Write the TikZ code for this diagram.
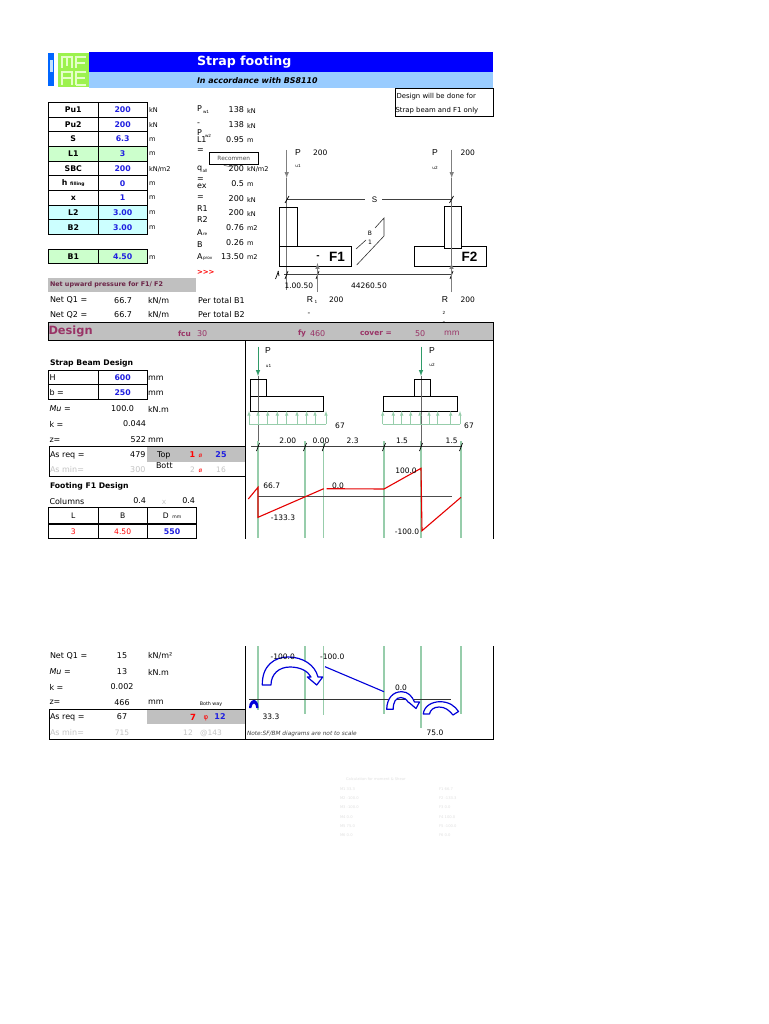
\documentclass[tikz,border=0pt]{standalone}
\usepackage{fontspec}
\setmainfont{DejaVu Sans}
\newfontfamily\arialf{Liberation Sans}
\usepackage{tikz}
\definecolor{headblue}{HTML}{0000FF}
\definecolor{skyblue}{HTML}{99CCFF}
\definecolor{cellgreen}{HTML}{CCFFCC}
\definecolor{cellcyan}{HTML}{CCFFFF}
\definecolor{stripgrey}{HTML}{C0C0C0}
\definecolor{plum}{HTML}{993366}
\definecolor{inblue}{HTML}{1F1FE0}
\definecolor{palegreen}{HTML}{97CDAB}
\definecolor{loadgreen}{HTML}{2F9A68}
\definecolor{lightnum}{HTML}{C4C4C4}
\definecolor{ghost}{HTML}{E0E0E0}
\definecolor{logolime}{HTML}{9CF24E}
\definecolor{logostroke}{HTML}{E4FFC8}
\tikzset{
	lab/.style={anchor=west, font=\fontsize{8}{9}\selectfont},
	num/.style={anchor=east, font=\fontsize{8}{9}\selectfont},
	mid/.style={font=\fontsize{7.5}{9}\selectfont},
	hed/.style={anchor=west, font=\fontsize{7.7}{9}\selectfont\bfseries},
	sub/.style={font=\fontsize{4.2}{5}\selectfont},
	unit/.style={anchor=west, font=\fontsize{6.6}{8}\selectfont},
	ari/.style={font=\arialf\fontsize{8.6}{10}\selectfont},
	cell/.style={draw=black, line width=0.9pt, minimum width=49.4pt, minimum height=14.7pt, font=\fontsize{7.8}{9}\selectfont\bfseries},
	val/.style={cell, text=inblue},
	ghosttxt/.style={anchor=west, text=ghost, font=\fontsize{3.7}{4}\selectfont},
	dimline/.style={draw=black!75, line width=0.6pt},
	gline/.style={draw=palegreen, line width=1.2pt},
	upar/.style={color=palegreen, line width=0.6pt, -latex},
	greyar/.style={color=black!50, line width=1pt, -latex},
	curve/.style={draw=blue!85!black, fill=white, line width=1.2pt, line join=round}
}
\begin{document}
\begin{tikzpicture}[x=1pt, y=-1pt, every node/.style={inner sep=0pt, outer sep=0pt}]
	\useasboundingbox (0,0) rectangle (768,1024);
	\fill[white] (0,0) rectangle (768,1024);

	% header
	\fill[headblue] (89,52) rectangle (493,72);
	\fill[skyblue] (48,72) rectangle (493,88);
	\fill[white] (48,52) rectangle (89,88);
	\fill[blue!60!cyan] (48,53) rectangle (54,86);
	\fill[skyblue!60!white] (49.5,60) rectangle (52.5,72);
	\fill[logolime] (58,53) rectangle (89,87);
	\draw[logostroke, line width=1.5pt] (62,68) -- (62,57) -- (72,57) -- (72,68) (67,57) -- (67,66) (76,68) -- (76,57) -- (86,57) (76,63) -- (85,63);
	\draw[logostroke, line width=1.5pt] (62,85) -- (62,72) -- (72,72) -- (72,85) (62,78) -- (72,78) (76,85) -- (76,72) -- (86,72) (76,78) -- (85,78) (76,85) -- (86,85);
	\node[anchor=west, text=white, font=\fontsize{12.6}{15}\selectfont\bfseries] (title) at (197,62.5){Strap footing};
	\node[anchor=west, font=\fontsize{7.9}{9}\selectfont\bfseries\itshape] (subtitle) at (197,80.5){In accordance with BS8110};

	% note box
	\draw[black, line width=0.7pt] (395,88.5) rectangle (493,116.5);
	\node[anchor=west, font=\fontsize{6.9}{8}\selectfont] (notea) at (396.5,96.5){Design will be done for};
	\node[anchor=west, font=\fontsize{6.9}{8}\selectfont] (noteb) at (395.5,111){Strap beam and F1 only};

	% input table
	\node[cell] (pu1) at (73.3,109.7){Pu1};
	\node[val] (pu1v) at (122.7,109.7){200};
	\node[cell] (pu2) at (73.3,124.4){Pu2};
	\node[val] (pu2v) at (122.7,124.4){200};
	\node[cell] (s) at (73.3,139.1){S};
	\node[val] (sv) at (122.7,139.1){6.3};
	\node[cell, fill=cellgreen] (l1) at (73.3,153.8){L1};
	\node[val, fill=cellgreen] (l1v) at (122.7,153.8){3};
	\node[cell] (sbc) at (73.3,168.5){SBC};
	\node[val] (sbcv) at (122.7,168.5){200};
	\node[cell] (hf) at (73.3,183.2){h {\fontsize{4.5}{5}\selectfont filling}};
	\node[val] (hfv) at (122.7,183.2){0};
	\node[cell] (x) at (73.3,197.9){x};
	\node[val] (xv) at (122.7,197.9){1};
	\node[cell, fill=cellcyan] (l2) at (73.3,212.6){L2};
	\node[val, fill=cellcyan] (l2v) at (122.7,212.6){3.00};
	\node[cell, fill=cellcyan] (b2) at (73.3,227.3){B2};
	\node[val, fill=cellcyan] (b2v) at (122.7,227.3){3.00};
	\node[cell, fill=cellgreen] (b1) at (73.3,256.5){B1};
	\node[val, fill=cellgreen] (b1v) at (122.7,256.5){4.50};
	\node[unit] (u1) at (149,110){kN};
	\node[unit] (u2) at (149,124.5){kN};
	\node[unit] (u3) at (149,139.5){m};
	\node[unit] (u4) at (149,154){m};
	\node[unit] (u5) at (149,169){kN/m2};
	\node[unit] (u6) at (149,183.5){m};
	\node[unit] (u7) at (149,198){m};
	\node[unit] (u8) at (149,213){m};
	\node[unit] (u9) at (149,227.5){m};
	\node[unit] (u10) at (149,258){m};

	% computed values
	\node[lab] (pwa) at (197,109){P};
	\node[sub, anchor=west] (pwb) at (203,111.5){w1};
	\node[lab] (dash) at (197,124){-};
	\node[lab] (pb) at (197,132.5){P};
	\node[lab] (lt) at (197,139.5){L1};
	\node[sub, anchor=west] (ltb) at (205,136){w2};
	\node[lab] (eqa) at (197,151){=};
	\node[lab] (qa) at (197,169){q};
	\node[sub, anchor=west] (qb) at (202.5,170.5){all};
	\node[lab] (eqb) at (197,180){=};
	\node[lab] (ex) at (197,186.5){ex};
	\node[lab] (eqc) at (197,198){=};
	\node[lab] (ra) at (197,208.5){R1};
	\node[lab] (rb) at (197,220){R2};
	\node[lab] (are) at (197,232.5){A};
	\node[sub, anchor=west] (areb) at (203,234.5){re};
	\node[lab] (bq) at (197,244.5){B};
	\node[lab] (apr) at (197,256.5){A};
	\node[sub, anchor=west] (aprb) at (203,258.5){prov};
	\node[lab, text=red, font=\fontsize{7}{8}\selectfont\bfseries] (more) at (197,272){>{}>{}>};
	\node[num] (v1) at (244,110){138};
	\node[unit] (v1u) at (247,110.5){kN};
	\node[num] (v2) at (244,125){138};
	\node[unit] (v2u) at (247,125.5){kN};
	\node[num] (v3) at (244,140){0.95};
	\node[unit] (v3u) at (247,140.5){m};
	\node[num] (v4) at (244,169){200};
	\node[unit] (v4u) at (247,169.5){kN/m2};
	\node[num] (v5) at (244,184){0.5};
	\node[unit] (v5u) at (247,185){m};
	\node[num] (v6) at (244,199){200};
	\node[unit] (v6u) at (247,199.5){kN};
	\node[num] (v7) at (244,213){200};
	\node[unit] (v7u) at (247,213.5){kN};
	\node[num] (v8) at (244,228){0.76};
	\node[unit] (v8u) at (247,228.5){m2};
	\node[num] (v9) at (244,243){0.26};
	\node[unit] (v9u) at (247,243.5){m};
	\node[num] (v10) at (244,257){13.50};
	\node[unit] (v10u) at (247,257.5){m2};
	\draw[black!70, line width=0.5pt] (222,164) .. controls (226,167) and (232,167) .. (236,165);
	\node[draw=black, line width=0.5pt, fill=white, minimum width=49.5pt, minimum height=12.3pt, text=black!70, font=\fontsize{5.8}{7}\selectfont] (recom) at (233.8,158){Recommen};

	% net pressure
	\fill[stripgrey] (48,278) rectangle (196,292);
	\node[hed, text=plum!70!black, font=\fontsize{6.4}{8}\selectfont\bfseries] (nup) at (50,285){Net upward pressure for F1/ F2};
	\node[lab] (qa1) at (50,300.5){Net Q1 =};
	\node[num] (qa2) at (132,300.5){66.7};
	\node[lab] (qa3) at (148,300.5){kN/m};
	\node[lab] (qa4) at (198,300.5){Per total B1};
	\node[lab] (qb1) at (50,315){Net Q2 =};
	\node[num] (qb2) at (132,315){66.7};
	\node[lab] (qb3) at (148,315){kN/m};
	\node[lab] (qb4) at (198,315){Per total B2};

	% elevation
	\coordinate (pa) at (286.7,150);
	\coordinate (pat) at (286.7,178);
	\coordinate (pae) at (286.7,290);
	\coordinate (pb1) at (451.7,150);
	\coordinate (pbt) at (451.7,178);
	\coordinate (pbe) at (451.7,290);
	\path (pat) edge[draw=black!55, line width=0.7pt] (pae);
	\path (pbt) edge[draw=black!55, line width=0.7pt] (pbe);
	\path (pa) edge[greyar] (pat);
	\path (pb1) edge[greyar] (pbt);
	\node[ari] (pal) at (298,152.5){P};
	\node[sub] (pas) at (298,166){u1};
	\node[mid, anchor=west] (pav) at (313,153){200};
	\node[ari] (pbl) at (435,152.5){P};
	\node[sub] (pbs) at (435,168){u2};
	\node[mid, anchor=west] (pbv) at (460.5,153){200};
	\draw[black, line width=0.8pt] (279.3,207.7) rectangle (297,246.3);
	\draw[black, line width=0.8pt] (279.3,246.3) rectangle (351.7,266.7);
	\draw[black, line width=0.8pt] (414.3,246.3) rectangle (486.3,266.7);
	\draw[black, line width=0.8pt, fill=white] (444.3,206.7) rectangle (461,248);
	\draw[black!55, line width=0.6pt] (451.7,200) -- (451.7,266);
	\node[ari, font=\arialf\fontsize{8}{10}\selectfont] (sl) at (374.5,200){S};
	\coordinate (sa) at (287,199);
	\coordinate (sb) at (365,199);
	\coordinate (sc) at (382,199);
	\coordinate (sd) at (451,199);
	\path (sa) edge[dimline] (sb);
	\path (sc) edge[dimline] (sd);
	\draw[black, line width=0.7pt] (285,203) -- ++(4,-7) (449.5,203) -- ++(4,-7);
	\node[ari, font=\arialf\fontsize{13.5}{16}\selectfont\bfseries] (f1) at (337,257){F1};
	\node[ari, font=\arialf\fontsize{13.5}{16}\selectfont\bfseries] (f2) at (469.5,257){F2};
	\node[mid, font=\fontsize{8}{9}\selectfont\bfseries] (f1d) at (318,257.5){-};
	\draw[black!80, line width=0.6pt] (356,249) -- (366,240) (375,228) -- (384,218) -- (384,236) -- (356.7,265);
	\node[mid, font=\fontsize{6}{7}\selectfont] (bdim) at (370,233){B};
	\node[mid, font=\fontsize{6}{7}\selectfont] (bdim2) at (370,242.5){1};
	\coordinate (da) at (284,274.5);
	\coordinate (db) at (451,274.5);
	\path (da) edge[dimline] (db);
	\draw[black, line width=0.7pt] (275.5,279) -- ++(3,-8) (279,276) -- (278,271) (285,279) -- ++(3,-8) (316,279) -- ++(3,-8) (450,279) -- ++(3,-8);
	\coordinate (ra1) at (317.5,292);
	\coordinate (ra2) at (317.5,263);
	\coordinate (rb1) at (451.5,292);
	\coordinate (rb2) at (451.5,263);
	\path (ra1) edge[greyar] (ra2);
	\path (rb1) edge[greyar] (rb2);
	\node[mid, anchor=west] (dl1) at (284.5,286){1.00.50};
	\node[mid, anchor=west] (dl2) at (351,286){44260.50};
	\node[ari] (r1l) at (310,300){R};
	\node[sub] (r1s) at (316,302){1};
	\node[mid, anchor=west] (r1v) at (329,300){200};
	\node[mid] (r1d) at (309,314){-};
	\node[ari] (r2l) at (445,300){R};
	\node[sub] (r2s) at (444,313){2};
	\node[mid, anchor=west] (r2v) at (460.5,300){200};
	\node[mid] (r2d) at (444,323){-};

	% design bar
	\draw[black, line width=0.9pt, fill=stripgrey] (48.5,322) rectangle (493.5,340.5);
	\node[anchor=west, text=plum, font=\fontsize{11.4}{14}\selectfont\bfseries] (design) at (48.5,331.5){Design};
	\node[anchor=west, text=plum, font=\fontsize{7.4}{9}\selectfont\bfseries] (fcu) at (178,333.5){fcu};
	\node[lab, text=plum] (fcuv) at (197,333.5){30};
	\node[anchor=west, text=plum, font=\fontsize{7.4}{9}\selectfont\bfseries] (fy) at (298,333.5){fy};
	\node[lab, text=plum] (fyv) at (310,333.5){460};
	\node[anchor=west, text=plum, font=\fontsize{7.4}{9}\selectfont\bfseries] (cover) at (360,333.5){cover =};
	\node[lab, text=plum] (coverv) at (415,333.5){50};
	\node[lab, text=plum] (coveru) at (444,333.5){mm};

	% strap beam design
	\node[hed] (sbd) at (50,363.5){Strap  Beam Design};
	\node[cell] (hc) at (73.3,377.5){};
	\node[lab] (ht) at (49.5,377.5){H};
	\node[val] (hv) at (122.7,377.5){600};
	\node[lab] (hu) at (148,378.5){mm};
	\node[cell] (bc) at (73.3,392.2){};
	\node[lab] (bt) at (49.5,392.2){b =};
	\node[val] (bv) at (122.7,392.2){250};
	\node[lab] (bu) at (148,393.5){mm};
	\node[lab, font=\fontsize{8}{9}\selectfont\itshape] (mua) at (49.5,409){Mu =};
	\node[num] (mub) at (134,409){100.0};
	\node[lab] (muc) at (148,409){kN.m};
	\node[lab] (ka) at (49.5,424){k =};
	\node[num] (kb) at (146,424){0.044};
	\node[lab] (za) at (49.5,440){z=};
	\node[num] (zb) at (146,440){522};
	\node[lab] (zc) at (148,440){mm};
	\fill[stripgrey] (147,447) rectangle (245,461.5);
	\draw[black, line width=0.9pt] (49,446.7) rectangle (245,476);
	\node[lab] (asa) at (50,455){As req =};
	\node[num] (asb) at (145.5,455){479};
	\node[lab] (top) at (157,455){Top};
	\node[mid, text=red, font=\fontsize{8}{9}\selectfont\bfseries] (topn) at (192.5,455){1};
	\node[mid, text=red, font=\fontsize{6}{7}\selectfont] (topo) at (200.5,455.5){ø};
	\node[mid, text=inblue, font=\fontsize{8}{9}\selectfont\bfseries] (topd) at (221,455){25};
	\node[lab, text=lightnum] (asc) at (50,470){As min=};
	\node[num, text=lightnum] (asd) at (145.5,470){300};
	\node[lab] (bott) at (156,466){Bott};
	\node[mid, text=lightnum] (botn) at (192.5,470){2};
	\node[mid, text=red, font=\fontsize{6}{7}\selectfont] (boto) at (200.5,471){ø};
	\node[mid, text=lightnum] (botd) at (221,470){16};

	% footing design
	\node[hed] (ffd) at (50,486){Footing F1 Design};
	\node[lab] (cola) at (49.5,501.5){Columns};
	\node[num] (colb) at (146,501){0.4};
	\node[mid, text=lightnum] (colx) at (164,502.5){x};
	\node[num] (colc) at (195,501){0.4};
	\node[cell, font=\fontsize{7.6}{9}\selectfont, minimum height=16.6pt] (lh) at (73.3,515.6){L};
	\node[cell, font=\fontsize{7.6}{9}\selectfont, minimum height=16.6pt] (bh) at (122.7,515.6){B};
	\node[cell, font=\fontsize{7.6}{9}\selectfont, minimum height=16.6pt] (dh) at (172.1,515.6){D {\fontsize{4.6}{5}\selectfont\ mm}};
	\node[cell, font=\fontsize{7.6}{9}\selectfont, text=red] (lv) at (73.3,531.3){3};
	\node[cell, font=\fontsize{7.6}{9}\selectfont, text=red] (bv2) at (122.7,531.3){4.50};
	\node[val] (dv) at (172.1,531.3){550};

	% load and shear panel
	\draw[black, line width=0.9pt] (245.5,341) -- (245.5,539) (493.5,341) -- (493.5,539);
	\path[gline] (258,441) edge (258,538) (305,441) edge (305,538) (323.7,441) edge (323.7,538) (384,441) edge (384,538) (421,441) edge (421,538) (461,441) edge (461,538);
	\draw[black!60, line width=0.9pt] (258,376) -- (258,441) (421,376) -- (421,446);
	\coordinate (gaa) at (258,346.5);
	\coordinate (gab) at (258,376);
	\coordinate (gba) at (421,346.5);
	\coordinate (gbb) at (421,376);
	\path (gaa) edge[color=loadgreen, line width=1pt, -latex] (gab);
	\path (gba) edge[color=loadgreen, line width=1pt, -latex] (gbb);
	\node[ari] (gal) at (268,351){P};
	\node[sub] (gas) at (268.5,366){u1};
	\node[ari] (gbl) at (432,350.5){P};
	\node[sub] (gbs) at (432,365){u2};
	\draw[black, line width=0.8pt] (250.3,379.7) rectangle (266.7,396);
	\draw[black, line width=0.8pt] (250.3,396) rectangle (323.7,411.3);
	\draw[black, line width=0.8pt] (414.3,379.7) rectangle (430.7,396);
	\draw[black, line width=0.8pt] (383.7,396) rectangle (457,411.3);
	\draw[black!60, line width=0.8pt] (258,379.7) -- (258,411) (421,379.7) -- (421,411);
	\draw[palegreen, line width=0.7pt] (249,424.3) -- (326,424.3) (382.7,424.3) -- (460,424.3);
	\path[upar] (249,424.3) edge (249,411) (258,424.3) edge (258,411) (267.7,424.3) edge (267.7,411) (277.3,424.3) edge (277.3,411) (286.7,424.3) edge (286.7,411) (297,424.3) edge (297,411) (306.7,424.3) edge (306.7,411) (315,424.3) edge (315,411) (326,424.3) edge (326,411);
	\path[upar] (382.7,424.3) edge (382.7,411) (393.3,424.3) edge (393.3,411) (401.7,424.3) edge (401.7,411) (410.7,424.3) edge (410.7,411) (420,424.3) edge (420,411) (429,424.3) edge (429,411) (437.7,424.3) edge (437.7,411) (450.7,424.3) edge (450.7,411) (460,424.3) edge (460,411);
	\node[mid] (q1l) at (340,425.5){67};
	\node[mid] (q2l) at (469,425.5){67};
	\coordinate (ta) at (251,446.7);
	\coordinate (tb) at (462,446.7);
	\path (ta) edge[dimline] (tb);
	\draw[black, line width=0.7pt] (256.5,451) -- ++(3,-8) (303.5,451) -- ++(3,-8) (322.2,451) -- ++(3,-8) (382.5,451) -- ++(3,-8) (419.5,451) -- ++(3,-8) (459.5,451) -- ++(3,-8);
	\node[mid] (ln1) at (287.7,440.5){2.00};
	\node[mid] (ln2) at (321,440.5){0.00};
	\node[mid] (ln3) at (352.7,440.5){2.3};
	\node[mid] (ln4) at (402,440.5){1.5};
	\node[mid] (ln5) at (451.7,440.5){1.5};
	\coordinate (sfa) at (258,496);
	\coordinate (sfb) at (452,496);
	\path (sfa) edge[draw=black!70, line width=0.6pt] (sfb);
	\draw[red!90!black, line width=1.1pt] (248.3,499) -- (258,487.3) -- (258,517.3) -- (323.7,488.7);
	\draw[red!90!black, line width=1.1pt] (326.7,488.7) -- (384,489) -- (421,468.3) -- (422,530.7) -- (461,497.3);
	\node[mid] (sf1) at (271.7,486){66.7};
	\node[mid] (sf2) at (283,517.7){-133.3};
	\node[mid] (sf3) at (338,486){0.0};
	\node[mid] (sf4) at (406,470.7){100.0};
	\node[mid] (sf5) at (407,532){-100.0};

	% bottom table
	\node[lab] (nq1) at (50,656){Net Q1 =};
	\node[mid, font=\fontsize{8}{9}\selectfont] (nq2) at (122,656){15};
	\node[lab] (nq3) at (148,656){kN/m²};
	\node[lab, font=\fontsize{8}{9}\selectfont\itshape] (bmu1) at (49.5,672){Mu =};
	\node[mid, font=\fontsize{8}{9}\selectfont] (bmu2) at (122,672){13};
	\node[lab] (bmu3) at (148,672){kN.m};
	\node[lab] (bk1) at (49.5,687){k =};
	\node[mid, font=\fontsize{8}{9}\selectfont] (bk2) at (122,687){0.002};
	\node[lab] (bz1) at (49.5,702.5){z=};
	\node[mid, font=\fontsize{8}{9}\selectfont] (bz2) at (122,702.5){466};
	\node[lab] (bz3) at (148,702.5){mm};
	\node[mid, font=\fontsize{4.8}{6}\selectfont] (both) at (211,704.5){Both way};
	\fill[stripgrey] (147,709) rectangle (245,723.5);
	\draw[black, line width=0.9pt] (49,709) rectangle (245,739);
	\node[lab] (bas1) at (50,717){As req =};
	\node[mid, font=\fontsize{8}{9}\selectfont] (bas2) at (122,717){67};
	\node[mid, text=red, font=\fontsize{8.5}{10}\selectfont\bfseries] (bas3) at (193,717){7};
	\node[mid, text=red, font=\fontsize{7}{8}\selectfont] (bas4) at (206,718){φ};
	\node[mid, text=inblue, font=\fontsize{8}{9}\selectfont\bfseries] (bas5) at (220,717){12};
	\node[lab, text=lightnum] (bas6) at (50,733){As min=};
	\node[mid, text=lightnum] (bas7) at (122,733){715};
	\node[mid, text=lightnum] (bas8) at (188,733){12};
	\node[mid, text=lightnum] (bas9) at (211,733){@143};

	% moment panel
	\draw[black, line width=0.9pt] (245.5,646) -- (245.5,739.5) -- (493.5,739.5) -- (493.5,646);
	\path[gline] (258,646) edge (258,710) (305,646) edge (305,714) (323.7,646) edge (323.7,715) (384,646) edge (384,714) (421,646) edge (421,728) (461,646) edge (461,714);
	\coordinate (bma) at (249,699.3);
	\coordinate (bmb) at (451,699.3);
	\path (bma) edge[draw=black!80, line width=0.6pt] (bmb);
	\draw[curve] (262.3,685) .. controls (262,665) and (275,657) .. (288,657) .. controls (303,657) and (315,665) .. (318,677) -- (322.7,677) -- (316.7,685) -- (307.3,677) -- (311,677) .. controls (308,671) and (300,667) .. (290,667) .. controls (279,667) and (271,674) .. (271,685) -- cycle;
	\draw[curve] (386.7,709.3) .. controls (387,698) and (393,691.7) .. (401.7,691.7) .. controls (408,691.7) and (412,696) .. (414.5,702) -- (419.5,702) -- (416,708.5) -- (409,702.5) -- (408.5,702.5) .. controls (406,699) and (404,697.5) .. (401,697.5) .. controls (396,697.5) and (393,702) .. (393.3,709.3) -- cycle;
	\draw[curve] (423.3,714) .. controls (424,706) and (432,701.7) .. (440,701.7) .. controls (449,701.7) and (455,706) .. (458.5,711.5) -- (453,715) .. controls (449,710) and (445,707) .. (439,707) .. controls (434,707) and (430,710) .. (429.5,714) -- cycle;
	\fill[blue!85!black] (249,708) .. controls (249,702) and (252,700) .. (254,700) .. controls (256,700) and (258.5,702) .. (258.5,708) -- (256.3,708) .. controls (256,705) and (255,703.5) .. (254,703.5) .. controls (253,703.5) and (251.5,705) .. (251.3,708) -- cycle;
	\coordinate (bla) at (325,666.7);
	\coordinate (blb) at (384,691.7);
	\path (bla) edge[draw=blue!85!black, line width=1.1pt] (blb);
	\node[mid] (bm1) at (282.7,656.7){-100.0};
	\node[mid] (bm2) at (332.3,657){-100.0};
	\node[mid] (bm3) at (401,687.3){0.0};
	\node[mid] (bm4) at (271,717){33.3};
	\node[mid] (bm5) at (435,732.7){75.0};
	\node[anchor=west, font=\fontsize{5.8}{7}\selectfont\itshape, text=black!75] (scale) at (247,734.3){Note:SF/BM diagrams are not to scale};

	% faint calculation list
	\node[ghosttxt] (calc) at (346,779){Calculation for moment \& Shear};
	\node[ghosttxt] (m1) at (340,789){M1  33.3};
	\node[ghosttxt] (m2) at (340,798){M2  -100.0};
	\node[ghosttxt] (m3) at (340,807){M3  -100.0};
	\node[ghosttxt] (m4) at (340,817){M4  0.0};
	\node[ghosttxt] (m5) at (340,826){M5  75.0};
	\node[ghosttxt] (m6) at (340,835){M6  0.0};
	\node[ghosttxt] (fs1) at (439,789){F1  66.7};
	\node[ghosttxt] (fs2) at (439,798){F2  -133.3};
	\node[ghosttxt] (fs3) at (439,807){F3  0.0};
	\node[ghosttxt] (fs4) at (439,817){F4  100.0};
	\node[ghosttxt] (fs5) at (439,826){F5  -100.0};
	\node[ghosttxt] (fs6) at (439,835){F6  0.0};
\end{tikzpicture}
\end{document}
